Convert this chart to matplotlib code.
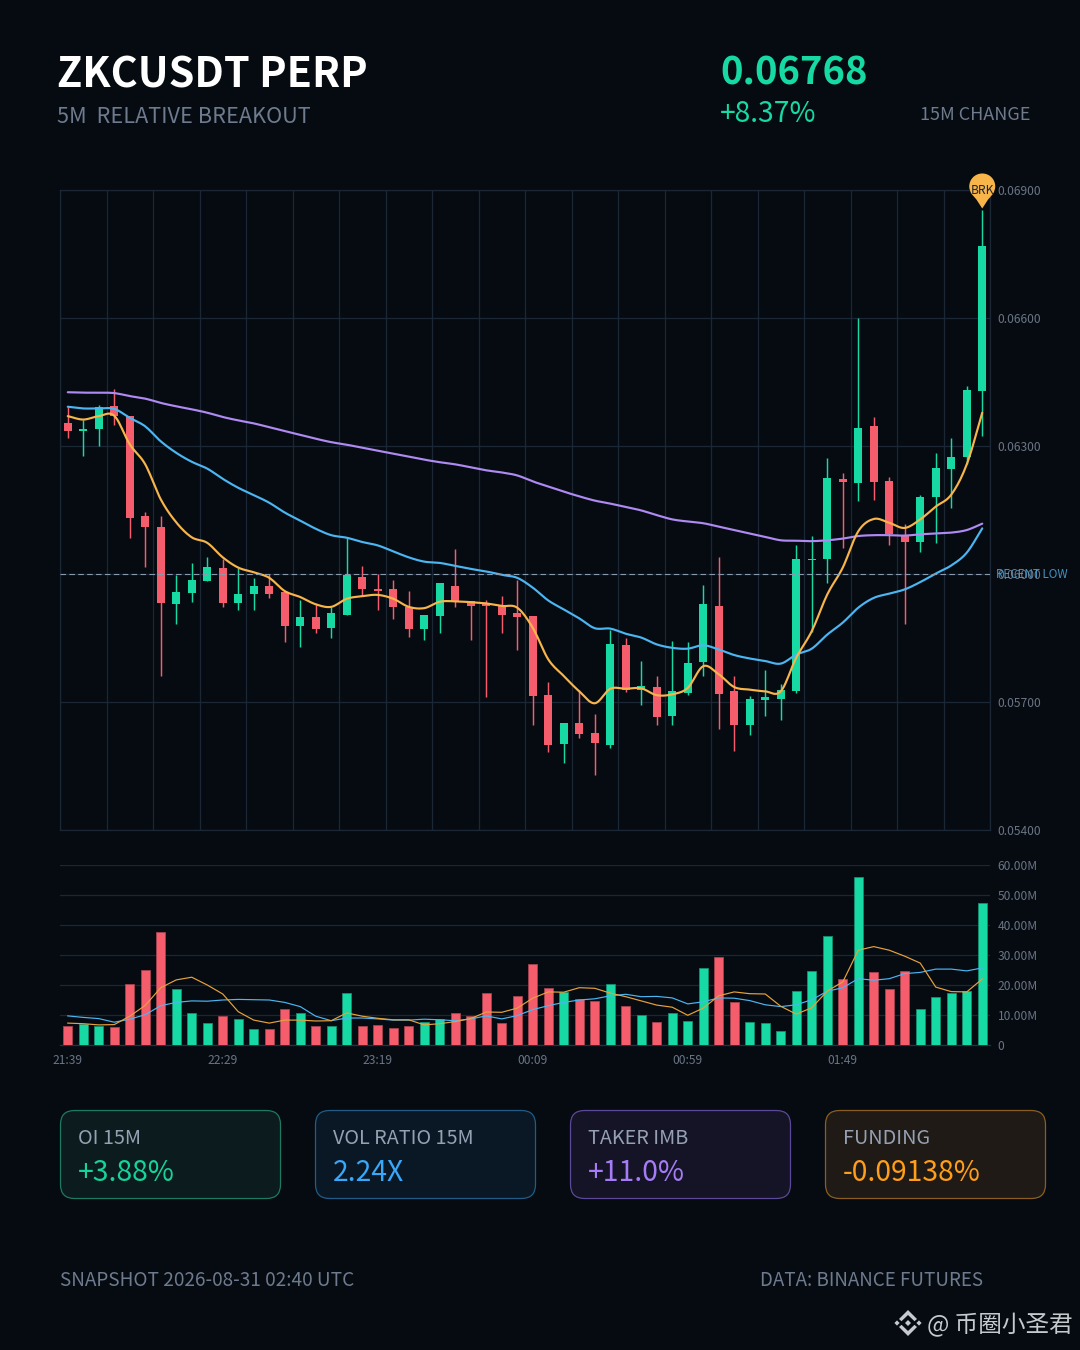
import numpy as np
import matplotlib
matplotlib.use("Agg")
import matplotlib.pyplot as plt
from matplotlib.patches import FancyBboxPatch, PathPatch, Polygon
from matplotlib.path import Path
from matplotlib.transforms import IdentityTransform

plt.rcParams['font.family'] = ['Noto Sans CJK SC', 'DejaVu Sans']

SCALE = 1e-5  # price lists below are in units of 0.00001 USDT
open_ = [6354,6334,6339,6393,6370,6137,6111,5929,5956,5984,6015,5933,5952,5973,5957,5878,5900,5873,5905,5994,
         5966,5964,5923,5871,5902,5973,5936,5930,5926,5908,5902,5716,5601,5650,5628,5600,5834,5727,5736,5668,
         5722,5793,5926,5725,5645,5705,5708,5725,6033,6034,6222,6214,6347,6219,6090,6076,6180,6245,6274,6429]
close = [6335,6341,6392,6370,6131,6109,5933,5958,5987,6017,5933,5952,5973,5954,5878,5900,5870,5908,5997,5965,
         5961,5922,5870,5904,5978,5935,5925,5925,5905,5900,5714,5600,5651,5624,5603,5835,5728,5738,5665,5725,
         5792,5929,5719,5646,5708,5711,5728,6036,6036,6224,6216,6343,6215,6093,6076,6180,6249,6275,6432,6768]
high = [6392,6362,6397,6434,6370,6146,6137,5997,6026,6041,6034,6013,5991,5999,5957,5940,5929,5922,6087,6018,
        6000,5987,5959,5905,5978,6058,5936,5940,5949,5987,5902,5748,5651,5729,5673,5868,5849,5797,5760,5844,
        5840,5975,6039,5760,5715,5776,5743,6067,6090,6271,6236,6601,6368,6228,6118,6186,6284,6319,6440,6852]
low = [6318,6276,6301,6349,6085,6017,5760,5883,5934,5984,5922,5915,5915,5943,5841,5830,5861,5851,5903,5948,
       5915,5894,5852,5845,5861,5922,5845,5712,5861,5823,5646,5582,5558,5615,5528,5592,5724,5693,5646,5646,
       5716,5760,5636,5584,5622,5667,5657,5720,5865,5978,6062,6171,6173,6069,5882,6051,6073,6155,6257,6323]
ma_fast = [6370,6362,6370,6371,6304,6257,6175,6121,6086,6073,6039,6015,6004,5991,5960,5946,5929,5923,5942,5948,
           5951,5942,5923,5920,5935,5936,5934,5931,5925,5921,5874,5800,5761,5725,5697,5731,5731,5732,5716,5718,
           5733,5784,5765,5735,5729,5725,5725,5804,5866,5952,6015,6100,6129,6120,6108,6128,6158,6186,6257,6378]
ma_mid = [6392,6388,6388,6387,6366,6346,6311,6284,6263,6247,6223,6202,6185,6167,6144,6125,6106,6091,6085,6075,
          6067,6053,6039,6029,6026,6019,6012,6006,5998,5991,5968,5938,5917,5896,5873,5872,5860,5851,5835,5827,
          5825,5833,5823,5810,5802,5796,5790,5811,5825,5858,5886,5921,5944,5954,5964,5981,6001,6020,6050,6107]
ma_slow = [6426,6425,6425,6424,6417,6411,6401,6393,6386,6378,6368,6360,6353,6344,6335,6326,6317,6309,6303,6296,
           6289,6282,6275,6268,6262,6257,6250,6243,6238,6231,6217,6205,6193,6182,6172,6165,6157,6149,6138,6128,
           6123,6119,6111,6103,6095,6087,6079,6078,6077,6079,6083,6089,6091,6091,6090,6093,6095,6097,6103,6118]
volume_m = [6.4,6.9,6.3,5.9,20.3,25.1,37.7,18.8,10.6,7.3,9.8,8.8,5.4,5.3,12.1,10.6,6.3,6.4,17.2,6.3,
            6.8,5.7,6.4,7.8,8.7,10.6,9.8,17.3,7.3,16.3,27.0,19.1,17.6,15.3,14.8,20.4,13.1,10.0,7.8,10.6,
            8.0,25.8,29.4,14.3,7.7,7.2,4.8,17.9,24.6,36.4,22.1,56.1,24.3,18.7,24.7,11.9,16.1,17.3,18.1,47.3]
vol_fast = [7.3,7.1,6.7,6.8,9.6,13.2,19.1,21.7,22.6,20.0,17.0,11.1,8.3,7.3,8.3,8.3,8.0,8.1,10.7,9.6,
            8.9,8.4,8.4,6.7,7.1,7.8,8.8,11.0,10.9,12.3,15.6,17.7,17.6,19.1,18.9,17.3,16.1,14.7,13.3,12.6,
            9.9,12.3,16.4,17.7,17.1,17.0,12.9,10.3,12.4,18.0,21.0,31.6,32.8,31.6,29.6,27.3,19.3,17.8,17.7,22.0]
vol_slow = [9.7,9.2,8.8,7.6,8.6,10.1,13.1,14.2,14.7,14.6,15.0,15.2,15.1,15.0,14.2,12.8,9.6,8.1,9.0,9.0,
            8.7,8.3,8.3,8.6,8.4,8.1,8.7,9.7,8.7,9.8,11.8,13.1,14.2,15.0,15.4,16.4,16.9,16.1,16.2,15.7,
            13.7,14.4,15.7,15.6,14.8,13.4,12.8,13.4,15.1,17.9,19.1,22.1,21.6,22.1,23.8,24.2,25.3,25.3,24.7,25.7]
price_ticks = [0.054,0.057,0.060,0.063,0.066,0.069]
vol_ticks_m = [0,10,20,30,40,50,60]
time_labels = ["21:39","22:29","23:19","00:09","00:59","01:49"]
breakout_level = 0.060
cards = [("OI 15M","+3.88%"),("VOL RATIO 15M","2.24X"),("TAKER IMB","+11.0%"),("FUNDING","-0.09138%")]

BG='#060B12'; GREEN='#16D9A3'; RED='#F65D6C'; YEL='#F7B54A'; BLU='#4BB6F2'; PUR='#AE8AF2'
GRID='#1C2736'; TICK='#6A7483'; SUB='#6E7B8E'

W,H=1080,1350
fig=plt.figure(figsize=(W/100,H/100),dpi=100,facecolor=BG)
def axpx(l,t,r,b,**k):
    return fig.add_axes([l/W,1-b/H,(r-l)/W,(b-t)/H],**k)

def smooth(y,n=10):
    y=np.asarray(y,float); N=len(y)
    m=np.gradient(y)
    xs=[];ys=[]
    for i in range(N-1):
        t=np.linspace(0,1,n,endpoint=False)
        h00=2*t**3-3*t**2+1;h10=t**3-2*t**2+t;h01=-2*t**3+3*t**2;h11=t**3-t**2
        xs.append(i+t);ys.append(h00*y[i]+h10*m[i]+h01*y[i+1]+h11*m[i+1])
    xs.append([N-1]);ys.append([y[-1]])
    return np.concatenate(xs),np.concatenate(ys)

o,c,h,l=[np.array(a)*SCALE for a in (open_,close,high,low)]
x=np.arange(len(o)); up=c>=o
colors=np.where(up,GREEN,RED)

# ---------- price pane ----------
ax=axpx(60,190,990,830,facecolor='none')
ax.set_xlim(-0.5,59.5); ax.set_ylim(0.054,0.069)
for s in ax.spines.values():
    s.set_color(GRID); s.set_linewidth(0.9)
ax.set_xticks(np.arange(-0.5,60,3),minor=True); ax.set_xticks([])
ax.set_yticks(price_ticks); ax.set_yticklabels([f"{v:.5f}" for v in price_ticks])
ax.yaxis.tick_right()
ax.tick_params(axis='y',length=0,pad=5.6,labelsize=8.7,labelcolor=TICK)
ax.tick_params(axis='x',which='minor',length=0)
ax.grid(True,which='minor',axis='x',color=GRID,lw=0.9,zorder=0)
ax.grid(True,which='major',axis='y',color=GRID,lw=0.9,zorder=0)
ax.set_axisbelow(True)
ax.axhline(breakout_level,color='#8A9AAE',lw=0.8,dashes=(5,3),zorder=6)
ax.vlines(x,l,h,colors=colors,lw=1.05,zorder=2)
ax.bar(x,np.abs(c-o),bottom=np.minimum(o,c),width=0.516,color=colors,lw=0,zorder=3)
for s,col in ((ma_slow,PUR),(ma_mid,BLU),(ma_fast,YEL)):
    xs,ys=smooth(s); ax.plot(xs,ys*SCALE,color=col,lw=1.55,zorder=5,solid_capstyle='round')

# breakout pin sits on the last candle's high
px,py=ax.transData.transform((x[-1],h[-1]))
py+=2; R=13; cy=py+22
a=np.radians(35)
verts=[(px,py),(px-R*np.cos(a)*0.55,py+9),(px-R*np.cos(a),cy-R*np.sin(a)),
       (px-R,cy-R*0.3),(px-R,cy),
       (px-R,cy+R*0.56),(px-R*0.56,cy+R),(px,cy+R),
       (px+R*0.56,cy+R),(px+R,cy+R*0.56),(px+R,cy),
       (px+R,cy-R*0.3),(px+R*np.cos(a),cy-R*np.sin(a)),
       (px+R*np.cos(a)*0.55,py+9),(px,py),(px,py)]
codes=[Path.MOVETO,Path.LINETO,Path.LINETO,Path.CURVE3,Path.CURVE3,Path.CURVE4,Path.CURVE4,Path.CURVE4,
       Path.CURVE4,Path.CURVE4,Path.CURVE4,Path.CURVE3,Path.CURVE3,Path.LINETO,Path.LINETO,Path.CLOSEPOLY]
pin=PathPatch(Path(verts,codes),fc=YEL,ec='none',transform=IdentityTransform(),zorder=8,clip_on=False)
ax.add_patch(pin)

# ---------- volume pane ----------
av=axpx(60,865,990,1045,facecolor='none')
av.set_xlim(-0.5,59.5); av.set_ylim(0,60)
for s in av.spines.values(): s.set_visible(False)
av.spines['bottom'].set_visible(True); av.spines['bottom'].set_color('#263244'); av.spines['bottom'].set_linewidth(0.9)
av.set_yticks(vol_ticks_m); av.set_yticklabels([f"{v:.2f}M" if v else "0" for v in vol_ticks_m])
av.yaxis.tick_right()
av.set_xticks(np.arange(len(time_labels))*10); av.set_xticklabels(time_labels)
av.tick_params(axis='y',length=0,pad=5.6,labelsize=8.7,labelcolor=TICK)
av.tick_params(axis='x',length=0,pad=6.3,labelsize=8.7,labelcolor=TICK)
av.grid(True,axis='y',color=GRID,lw=0.9); av.set_axisbelow(True)
edge=np.where(up,'#128F72','#A5434F')
av.bar(x,volume_m,width=0.56,color=colors,edgecolor=edge,lw=0.6,zorder=3)
av.plot(x,vol_slow,color=BLU,lw=0.85,zorder=4)
av.plot(x,vol_fast,color='#E8A23C',lw=0.85,zorder=5)

# ---------- overlay: header, cards, footer ----------
ov=fig.add_axes([0,0,1,1],facecolor='none'); ov.set_xlim(0,W); ov.set_ylim(H,0); ov.axis('off')
def T(xp,yp,s,size,col,ha='left',weight='normal',**k):
    return ov.text(xp,yp,s,fontsize=size*0.72,color=col,ha=ha,va='center',fontweight=weight,**k)
T(57,75,"ZKCUSDT PERP",41.3,'#FFFFFF',weight='bold')
T(57,117,"5M  RELATIVE BREAKOUT",21.7,SUB)
T(720,73,"0.06768",38.2,GREEN,weight='bold')
T(720,114,"+8.37%",28.2,GREEN)
T(1030,115,"15M CHANGE",18,SUB,ha='right')
T(982,190,"BRK",12,'#1D2430',ha='center',zorder=9)
T(996,575,"RECENT LOW",11.7,'#4DA8E0',alpha=0.85,zorder=1)

card_x=[60.5,315.5,570.5,825.5]
card_fill=['#0B1B1E','#0A1826','#141426','#1F1A16']
card_edge=['#1C7A60','#215B86','#5B4898','#8A5D22']
card_val=['#16D39A','#38A8F8','#A57CF5','#FF9E18']
for cx,(lab,val),f,e,vc in zip(card_x,cards,card_fill,card_edge,card_val):
    ov.add_patch(FancyBboxPatch((cx+14,1110.5+14),220-28,88-28,boxstyle="round,pad=14,rounding_size=14",
                                fc=f,ec=e,lw=0.9,mutation_aspect=1))
    T(cx+17.5,1139,lab,19.8,'#95A1B2')
    T(cx+17.5,1173,val,28.3,vc)
T(60,1281,"SNAPSHOT 2026-08-31 02:40 UTC",19,SUB)
T(983,1281,"DATA: BINANCE FUTURES",18.8,SUB,ha='right')

# watermark
WM='#C6CACE'; lx,ly=908,1323
def dm(cx,cy,r): ov.add_patch(Polygon([(cx-r,cy),(cx,cy-r),(cx+r,cy),(cx,cy+r)],fc=WM,ec='none'))
dm(lx,ly,3); dm(lx-11,ly,2.6); dm(lx+11,ly,2.6)
for sgn in (-1,1):
    ov.add_patch(Polygon([(lx-9,ly+sgn*4),(lx,ly+sgn*13),(lx+9,ly+sgn*4),(lx+6.5,ly+sgn*1.8),
                          (lx,ly+sgn*8),(lx-6.5,ly+sgn*1.8)],fc=WM,ec='none'))
T(927,1325,"@ 币圈小圣君",23.6,WM)

fig.savefig("out.png",dpi=100,facecolor=BG)
